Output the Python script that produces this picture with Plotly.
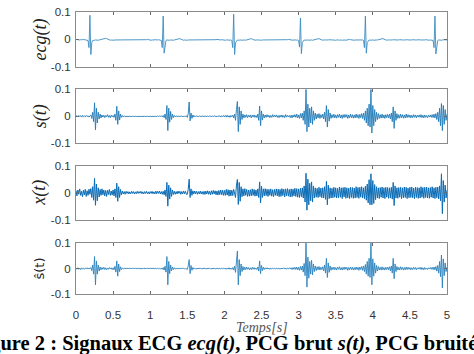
import plotly.graph_objects as go

# sampling of the traces (Hz)
FS = 80

# signal values in units of 1e-3, one row = 20 samples (0.25 s)
ecg_milli = [
    0,-1,0,-1,-2,-1,-2,-1,0,-1,-2,-1,-2,-4,-30,88,-55,-12,-4,-2,
    -3,-2,-3,-2,-3,-2,-1,-2,-1,0,1,3,4,3,1,-1,-2,-3,-2,-3,
    -2,-3,-2,-2,-3,-2,-3,-2,-2,-3,-2,-1,-2,-3,-2,-3,-2,-2,-1,-2,
    -3,-2,-3,-2,-1,-2,-3,-2,-2,-3,-2,-1,-2,-3,-2,-2,-1,0,-1,-2,
    -2,-3,-2,-3,-2,-1,-2,-3,-2,-1,-2,-2,-4,-30,85,-50,-12,-4,-2,-3,
    -2,-3,-2,-3,-2,-3,-2,-1,0,1,3,4,3,1,-1,-2,-3,-2,-3,-2,
    -3,-2,-2,-3,-2,-3,-2,-2,-3,-2,-1,-2,-3,-2,-2,-3,-2,-1,-2,-3,
    -2,-3,-2,-2,-3,-2,-1,-2,-3,-2,-2,-1,0,-1,-2,-3,-2,-1,-2,-3,
    -2,-3,-2,-1,-2,-3,-2,-2,-4,-30,92,-55,-12,-4,-2,-3,-2,-3,-2,-3,
    -2,-1,-2,-3,-2,-1,1,3,4,3,1,-1,-2,-3,-2,-3,-2,-2,-3,-2,
    -3,-2,-2,-3,-2,-1,-2,-3,-2,-3,-2,-2,-1,-2,-3,-2,-2,-3,-2,-3,
    -2,-1,-2,-3,-2,-2,-3,-2,-1,0,-1,-2,-3,-2,-3,-2,-1,-2,-3,-2,
    -4,-28,78,-52,-12,-4,-2,-3,-2,-3,-2,-3,-2,-1,-2,-3,-2,-1,0,1,
    3,4,3,1,-1,-2,-3,-2,-3,-2,-2,-3,-2,-1,-2,-3,-2,-2,-3,-2,
    -3,-2,-1,-2,-3,-2,-2,-3,-2,-1,-2,-3,-2,-2,-1,0,-1,-2,-3,-2,
    -3,-2,-2,-3,-2,-1,-2,-3,-2,-2,-4,-30,85,-50,-12,-4,-2,-3,-2,-3,
    -2,-3,-2,-3,-2,-2,-1,0,1,3,4,3,1,-1,-2,-3,-2,-3,-2,-2,
    -3,-2,-1,-2,-3,-2,-2,-3,-2,-1,-2,-3,-2,-2,-3,-2,-1,-2,-3,-2,
    -2,-3,-2,-1,-2,-3,-2,-2,-1,0,-1,-2,-3,-2,-2,-3,-2,-1,-2,-3,
    -2,-3,-2,-2,-3,-4,-30,85,-53,-12,-4,-2,-3,-2,-3,-2,-1,0,-1,-2,
    -2,
]

pcg_milli = [
    0,2,-2,3,-1,2,-3,4,-2,1,-2,3,-1,2,-3,1,5,-8,15,-20,
    50,-50,30,-25,15,-10,8,-6,5,-3,4,-5,3,-2,6,-4,3,-5,4,-2,
    3,-4,8,-15,37,-30,20,-14,8,-4,3,-2,1,-1,1,0,-1,1,0,-1,
    1,0,-1,1,0,-1,1,0,-1,1,0,-1,0,1,0,-1,1,0,-1,1,
    0,-1,1,0,-1,1,0,-1,1,-1,1,-1,2,-2,3,-5,8,-12,40,-53,
    30,-22,18,-12,8,-5,3,-2,1,-1,0,1,-1,0,1,-1,1,0,-1,2,
    -4,10,53,-17,12,-8,5,-3,2,-1,1,0,-1,1,0,-1,1,0,-1,1,
    0,-1,1,-1,1,0,-1,1,-1,2,-1,1,-2,2,-1,2,-3,2,-2,3,
    -2,3,-3,4,-3,2,-4,3,-2,4,-6,8,-15,25,55,-57,35,-30,20,-12,
    8,-6,5,-4,6,-5,4,-3,5,-6,4,-3,5,-4,3,-5,8,-15,38,-35,
    20,-14,8,-6,5,-4,6,-3,4,-5,3,-4,6,-3,4,-2,5,-4,3,-5,
    4,-3,5,-4,3,-5,6,-3,4,-2,3,-5,4,-6,5,-3,6,-4,8,-6,
    5,-8,10,-6,12,-15,20,-30,100,-57,45,-40,30,-25,35,-30,20,-15,12,-10,
    8,-6,10,-8,6,-5,8,-10,15,-20,40,-40,25,-18,12,-8,6,-5,8,-6,
    5,-7,6,-4,8,-6,5,-8,6,-5,7,-4,6,-8,5,-6,8,-5,6,-7,
    5,-6,8,-5,6,-8,7,-5,10,-8,12,-15,20,-25,30,-35,45,-40,100,-62,
    40,-35,25,-20,15,-12,10,-8,6,-7,8,-6,5,-8,6,-5,7,-6,8,-10,
    12,-20,35,-45,20,-15,10,-8,6,-7,8,-5,6,-7,5,-6,8,-5,6,-4,
    5,-6,4,-5,6,-4,5,-6,4,-3,5,-4,6,-5,4,-6,5,-4,3,-5,
    4,-3,5,-4,6,-5,8,-6,10,-12,15,-20,30,-35,47,-53,40,-30,25,-15,
    8,
]

noisy_milli = [
    8,-12,10,-6,14,-10,5,-15,9,-8,12,-14,7,-10,13,-6,15,-18,22,-28,
    53,-47,32,-30,18,-16,12,-10,14,-8,10,-12,8,-14,9,-7,12,-10,6,-9,
    10,-12,14,-18,35,-32,22,-18,12,-8,6,-5,4,-6,5,-3,4,-5,3,-4,
    5,-3,4,-5,3,-4,5,-3,4,-2,5,-4,3,-5,4,-3,5,-4,3,-5,
    4,-3,5,-4,3,-5,6,-4,5,-3,6,-5,4,-6,5,-8,10,-14,38,-50,
    28,-24,18,-14,10,-7,5,-6,4,-5,6,-3,5,-6,4,-5,6,-4,5,-6,
    -6,12,50,-18,14,-10,7,-5,6,-4,5,-6,4,-5,6,-5,4,-6,5,-7,
    6,-5,7,-6,5,-8,7,-6,8,-5,7,-8,6,-9,8,-7,10,-8,9,-10,
    8,-10,12,-9,11,-13,10,-12,9,-11,12,-10,-18,28,49,-44,38,-32,22,-15,
    14,-12,15,-10,12,-14,10,-13,11,-12,14,-10,12,-13,10,-12,14,-18,40,-38,
    24,-18,14,-12,15,-11,13,-14,12,-10,14,-13,11,-15,12,-10,14,-12,13,-15,
    12,-14,15,-11,13,-16,14,-12,15,-13,12,-16,14,-15,13,-12,16,-14,15,-17,
    14,-18,16,-15,18,-20,25,-35,72,-65,50,-45,35,-30,40,-35,25,-20,18,-17,
    16,-18,20,-15,17,-19,18,-20,22,-25,42,-45,28,-22,18,-20,16,-19,20,-17,
    18,-20,16,-19,21,-17,18,-22,19,-16,20,-21,18,-19,17,-22,20,-18,19,-21,
    17,-20,22,-18,19,-21,20,-17,22,-20,18,-22,24,-28,32,-38,48,-45,70,-45,
    45,-40,30,-26,22,-20,18,-22,19,-17,21,-20,18,-22,20,-17,19,-21,18,-20,
    20,-24,38,-48,25,-20,18,-21,19,-17,20,-22,18,-19,21,-18,20,-22,17,-19,
    20,-18,21,-19,17,-22,20,-18,19,-21,18,-20,22,-17,19,-21,20,-18,21,-20,
    18,-21,19,-17,22,-20,18,-22,20,-19,21,-23,25,-30,70,-78,45,-35,28,-20,
    10,
]

denoised_milli = [
    0,-2,3,-3,2,-4,3,-2,1,-3,2,-1,3,-2,2,-1,4,-8,14,-22,
    47,-64,30,-22,14,-10,6,-5,4,-3,5,-4,3,-5,2,-3,4,-2,3,-4,
    3,-5,9,-14,30,-30,18,-12,7,-4,2,-1,1,-1,0,1,-1,0,1,-1,
    0,1,-1,0,1,-1,0,1,0,-1,1,0,-1,1,0,-1,0,1,-1,0,
    1,-1,0,1,-1,0,1,-1,1,-1,1,-2,2,-3,4,-6,9,-14,47,-64,
    28,-20,14,-9,6,-4,3,-2,1,-1,1,0,-1,1,-1,0,1,-1,1,-2,
    -4,10,35,-20,12,-7,4,-2,1,-1,0,1,-1,0,1,-1,0,1,-1,1,
    -1,0,1,-1,1,-1,0,1,-1,1,-2,1,-1,2,-2,1,-2,2,-1,2,
    -2,2,-3,2,-2,3,-3,2,-3,4,-6,9,-15,25,69,-64,35,-28,18,-12,
    8,-6,5,-4,6,-3,4,-5,3,-4,5,-3,4,-3,2,-4,6,-10,30,-20,
    12,-8,5,-4,3,-2,3,-2,2,-3,2,-1,2,-2,1,-2,2,-1,2,-2,
    1,-2,2,-1,3,-2,2,-3,2,-1,3,-2,3,-4,4,-3,5,-4,6,-5,
    5,-7,8,-6,10,-14,20,-28,100,-73,45,-38,28,-22,32,-25,18,-12,10,-8,
    7,-5,8,-6,5,-4,7,-9,14,-18,40,-35,22,-15,10,-7,5,-4,6,-5,
    4,-6,5,-3,7,-5,4,-6,5,-4,6,-3,5,-7,4,-5,6,-4,5,-6,
    4,-5,6,-4,5,-7,6,-4,8,-7,10,-12,16,-22,28,-30,40,-35,100,-64,
    38,-30,22,-18,12,-10,8,-6,5,-6,7,-5,4,-6,5,-4,6,-5,7,-9,
    10,-18,40,-40,18,-12,8,-6,5,-6,7,-4,5,-6,4,-5,6,-4,5,-3,
    4,-5,3,-4,5,-3,4,-5,3,-2,4,-3,5,-4,3,-5,4,-3,2,-4,
    3,-2,4,-3,5,-4,6,-5,8,-10,12,-18,28,-32,53,-76,38,-28,22,-12,
    6,
]

x_ticks = [0, 0.5, 1, 1.5, 2, 2.5, 3, 3.5, 4, 4.5, 5]
x_tick_text = ["0", "0.5", "1", "1.5", "2", "2.5", "3", "3.5", "4", "4.5", "5"]
y_ticks = [-0.1, 0, 0.1]
y_tick_text = ["-0.1", "0", "0.1"]
panel_labels = ["<i>ecg(t)</i>", "<i>s(t)</i>", "<i>x(t)</i>", "ŝ(t)"]
x_title = "<i>Temps[s]</i>"
caption = "Figure 2 : Signaux ECG <i>ecg(t)</i>, PCG brut <i>s(t)</i>, PCG bruité"

series = [ecg_milli, pcg_milli, noisy_milli, denoised_milli]
colors = ["#3a8cc2", "#1f7ab8", "#0b6cb5", "#2a82bd"]
widths = [0.9, 0.9, 1.0, 0.9]

# figure geometry (px)
W, H = 474, 354
L, R, T, B = 76, 27, 6, 60
plot_h = H - T - B
panels_px = [(6, 62), (85, 140), (163, 218), (242, 294)]


def py(px):
    return (H - B - px) / plot_h


fig = go.Figure()
for k, vals in enumerate(series):
    n = len(vals)
    t = [i / FS for i in range(n)]
    y = [v / 1000 for v in vals]
    ax = "" if k == 0 else str(k + 1)
    fig.add_trace(go.Scatter(
        x=t, y=y, mode="lines", xaxis="x" + ax, yaxis="y" + ax,
        line=dict(color=colors[k], width=widths[k]), showlegend=False,
        hoverinfo="skip",
    ))

axis_common = dict(
    showline=True, linecolor="#8a8a8a", linewidth=1, mirror="ticks",
    ticks="inside", ticklen=3, tickcolor="#6a6a6a", tickwidth=1,
    showgrid=False, zeroline=False,
    tickfont=dict(family="Liberation Sans, Arial", size=11.5, color="#333333"),
)

layout = dict(
    width=W, height=H,
    margin=dict(l=L, r=R, t=T, b=B, pad=0),
    paper_bgcolor="white", plot_bgcolor="white",
)
for k, (top, bot) in enumerate(panels_px):
    ax = "" if k == 0 else str(k + 1)
    layout["xaxis" + ax] = dict(
        axis_common, domain=[0, 1], range=[0, 5], tickvals=x_ticks,
        ticktext=x_tick_text, showticklabels=(k == 3),
        anchor="y" + ax, ticklabelstandoff=10,
    )
    layout["yaxis" + ax] = dict(
        axis_common, domain=[py(bot), py(top)], range=[-0.1, 0.1],
        tickvals=y_ticks, ticktext=y_tick_text, anchor="x" + ax,
        ticklabelstandoff=2,
    )
fig.update_layout(**layout)

annots = []
for k, (top, bot) in enumerate(panels_px):
    is_hat = k == 3
    annots.append(dict(
        text=panel_labels[k], xref="paper", yref="paper",
        x=(40 - L) / (W - L - R), y=py((top + bot) / 2),
        xanchor="center", yanchor="middle", textangle=-90, showarrow=False,
        font=dict(family="DejaVu Sans" if is_hat else "Liberation Serif",
                  size=13 if is_hat else 18, color="#222222"),
    ))
annots.append(dict(
    text=x_title, xref="paper", yref="paper",
    x=(262 - L) / (W - L - R), y=py(328), xanchor="center", yanchor="middle",
    showarrow=False,
    font=dict(family="Liberation Serif", size=14, color="#555555"),
))
annots.append(dict(
    text="<b>" + caption + "</b>", xref="paper", yref="paper",
    x=(-30 - L) / (W - L - R), y=py(345), xanchor="left", yanchor="middle",
    showarrow=False,
    font=dict(family="Liberation Serif", size=20.5, color="#000000"),
))
fig.update_layout(annotations=annots)

fig.write_html("out.html")
